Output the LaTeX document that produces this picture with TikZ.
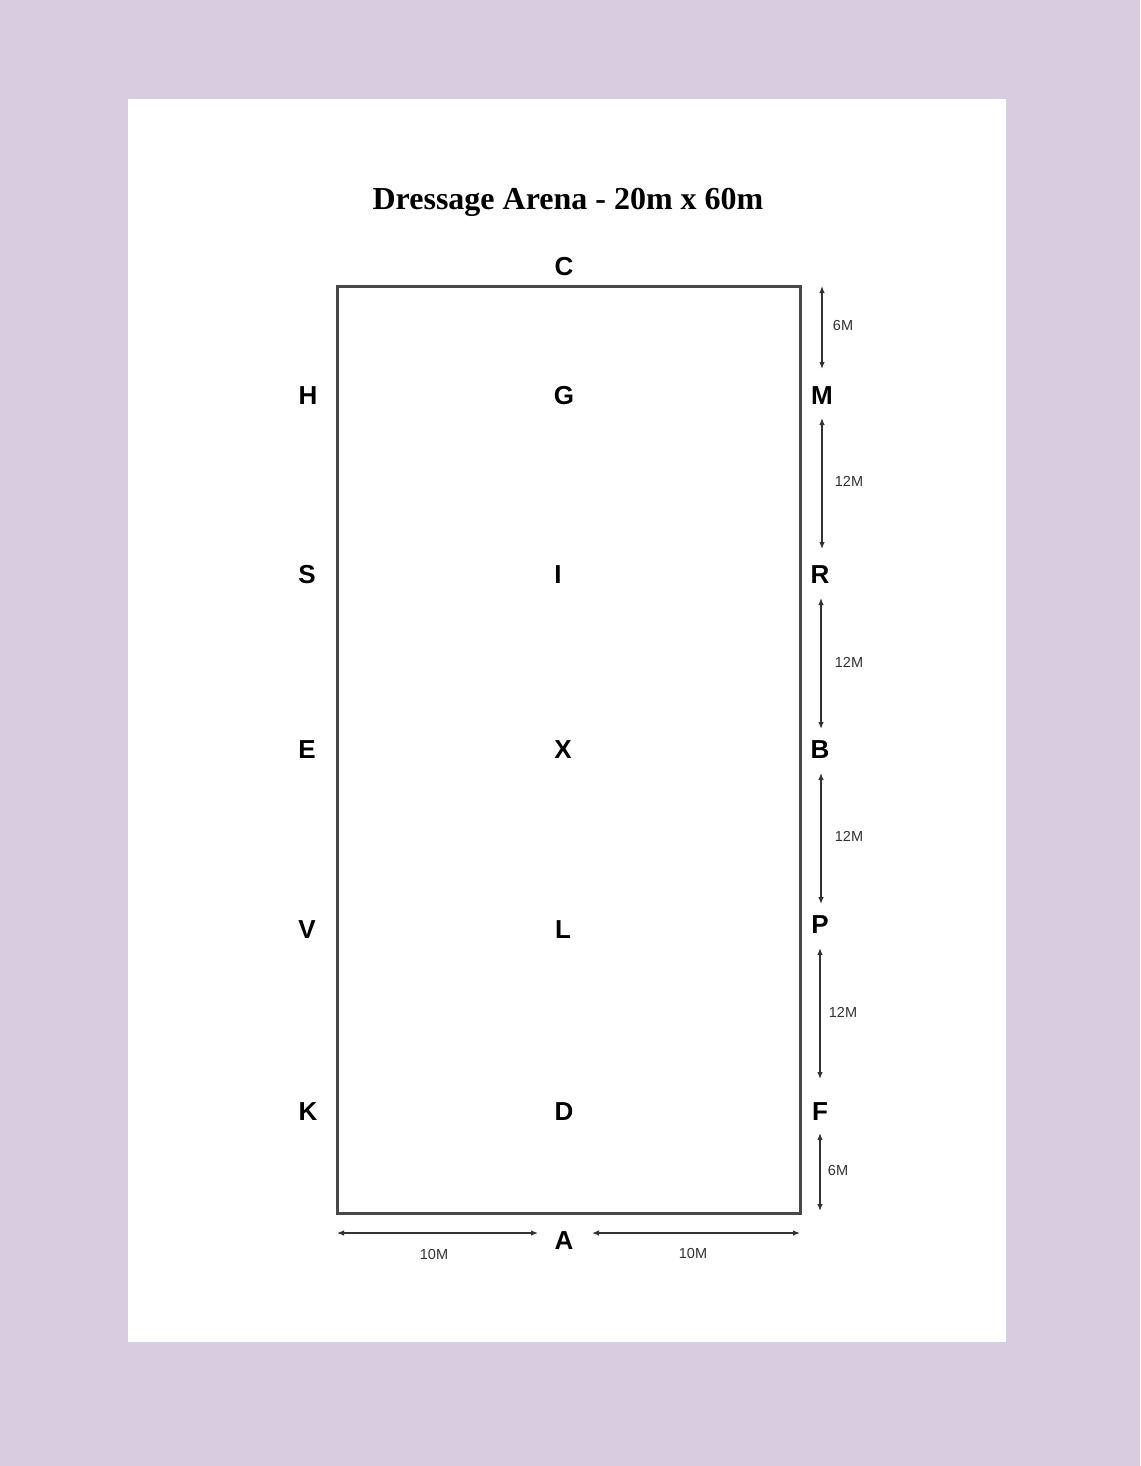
\documentclass[tikz,border=0pt]{standalone}
\usepackage{fontspec}
\setmainfont{Liberation Sans}
\newfontfamily\titlefont{Liberation Serif}
\usetikzlibrary{arrows.meta}
\definecolor{lilac}{RGB}{216,204,224}
\definecolor{edgegray}{RGB}{72,72,72}
\definecolor{dimgray}{RGB}{50,50,50}
\tikzset{
  mark letter/.style={font=\fontsize{26}{26}\selectfont\bfseries, text=black, inner sep=0pt, anchor=center},
  dimlabel/.style={font=\fontsize{14.5}{15}\selectfont, text=dimgray, inner sep=0pt},
  dimarrow/.style={draw=dimgray, line width=1.2pt, {Latex[length=7pt,width=5.5pt]}-{Latex[length=7pt,width=5.5pt]}},
}
\begin{document}
\begin{tikzpicture}[x=1pt,y=-1pt]
\useasboundingbox (0,0) rectangle (1140,1466);
\fill[lilac] (0,0) rectangle (1140,1466);
\fill[white] (128,99) rectangle (1006,1342);
% title
\node (title) at (568,202) {\titlefont\fontsize{32}{32}\selectfont\bfseries Dressage Arena - 20m x 60m};
% arena
\draw[edgegray, line width=3pt] (337,286) rectangle (800,1213);
% letters
\node[mark letter] (C) at (564,267) {C};
\node[mark letter] (A) at (564,1241) {A};
\node[mark letter] (H) at (308,396) {H};
\node[mark letter] (S) at (307,575) {S};
\node[mark letter] (E) at (307,750) {E};
\node[mark letter] (V) at (307,930) {V};
\node[mark letter] (K) at (308,1112) {K};
\node[mark letter] (G) at (564,396) {G};
\node[mark letter] (I) at (558,575) {I};
\node[mark letter] (X) at (563,750) {X};
\node[mark letter] (L) at (563,930) {L};
\node[mark letter] (D) at (564,1112) {D};
\node[mark letter] (M) at (822,396) {M};
\node[mark letter] (R) at (820,575) {R};
\node[mark letter] (B) at (820,750) {B};
\node[mark letter] (P) at (820,925) {P};
\node[mark letter] (F) at (820,1112) {F};
% dimension coordinates
\coordinate (d1a) at (822,286); \coordinate (d1b) at (822,369);
\coordinate (d2a) at (822,418); \coordinate (d2b) at (822,549);
\coordinate (d3a) at (821,598); \coordinate (d3b) at (821,729);
\coordinate (d4a) at (821,773); \coordinate (d4b) at (821,904);
\coordinate (d5a) at (820,948); \coordinate (d5b) at (820,1079);
\coordinate (d6a) at (820,1133); \coordinate (d6b) at (820,1211);
\coordinate (h1a) at (337,1233); \coordinate (h1b) at (538,1233);
\coordinate (h2a) at (592,1233); \coordinate (h2b) at (800,1233);
\draw[dimarrow] (d1a) -- (d1b);
\draw[dimarrow] (d2a) -- (d2b);
\draw[dimarrow] (d3a) -- (d3b);
\draw[dimarrow] (d4a) -- (d4b);
\draw[dimarrow] (d5a) -- (d5b);
\draw[dimarrow] (d6a) -- (d6b);
\draw[dimarrow] (h1a) -- (h1b);
\draw[dimarrow] (h2a) -- (h2b);
\node[dimlabel] (l1) at (843,326) {6M};
\node[dimlabel] (l2) at (849,481) {12M};
\node[dimlabel] (l3) at (849,662) {12M};
\node[dimlabel] (l4) at (849,836) {12M};
\node[dimlabel] (l5) at (843,1012) {12M};
\node[dimlabel] (l6) at (838,1170) {6M};
\node[dimlabel] (l7) at (434,1254) {10M};
\node[dimlabel] (l8) at (693,1253) {10M};
\end{tikzpicture}
\end{document}
